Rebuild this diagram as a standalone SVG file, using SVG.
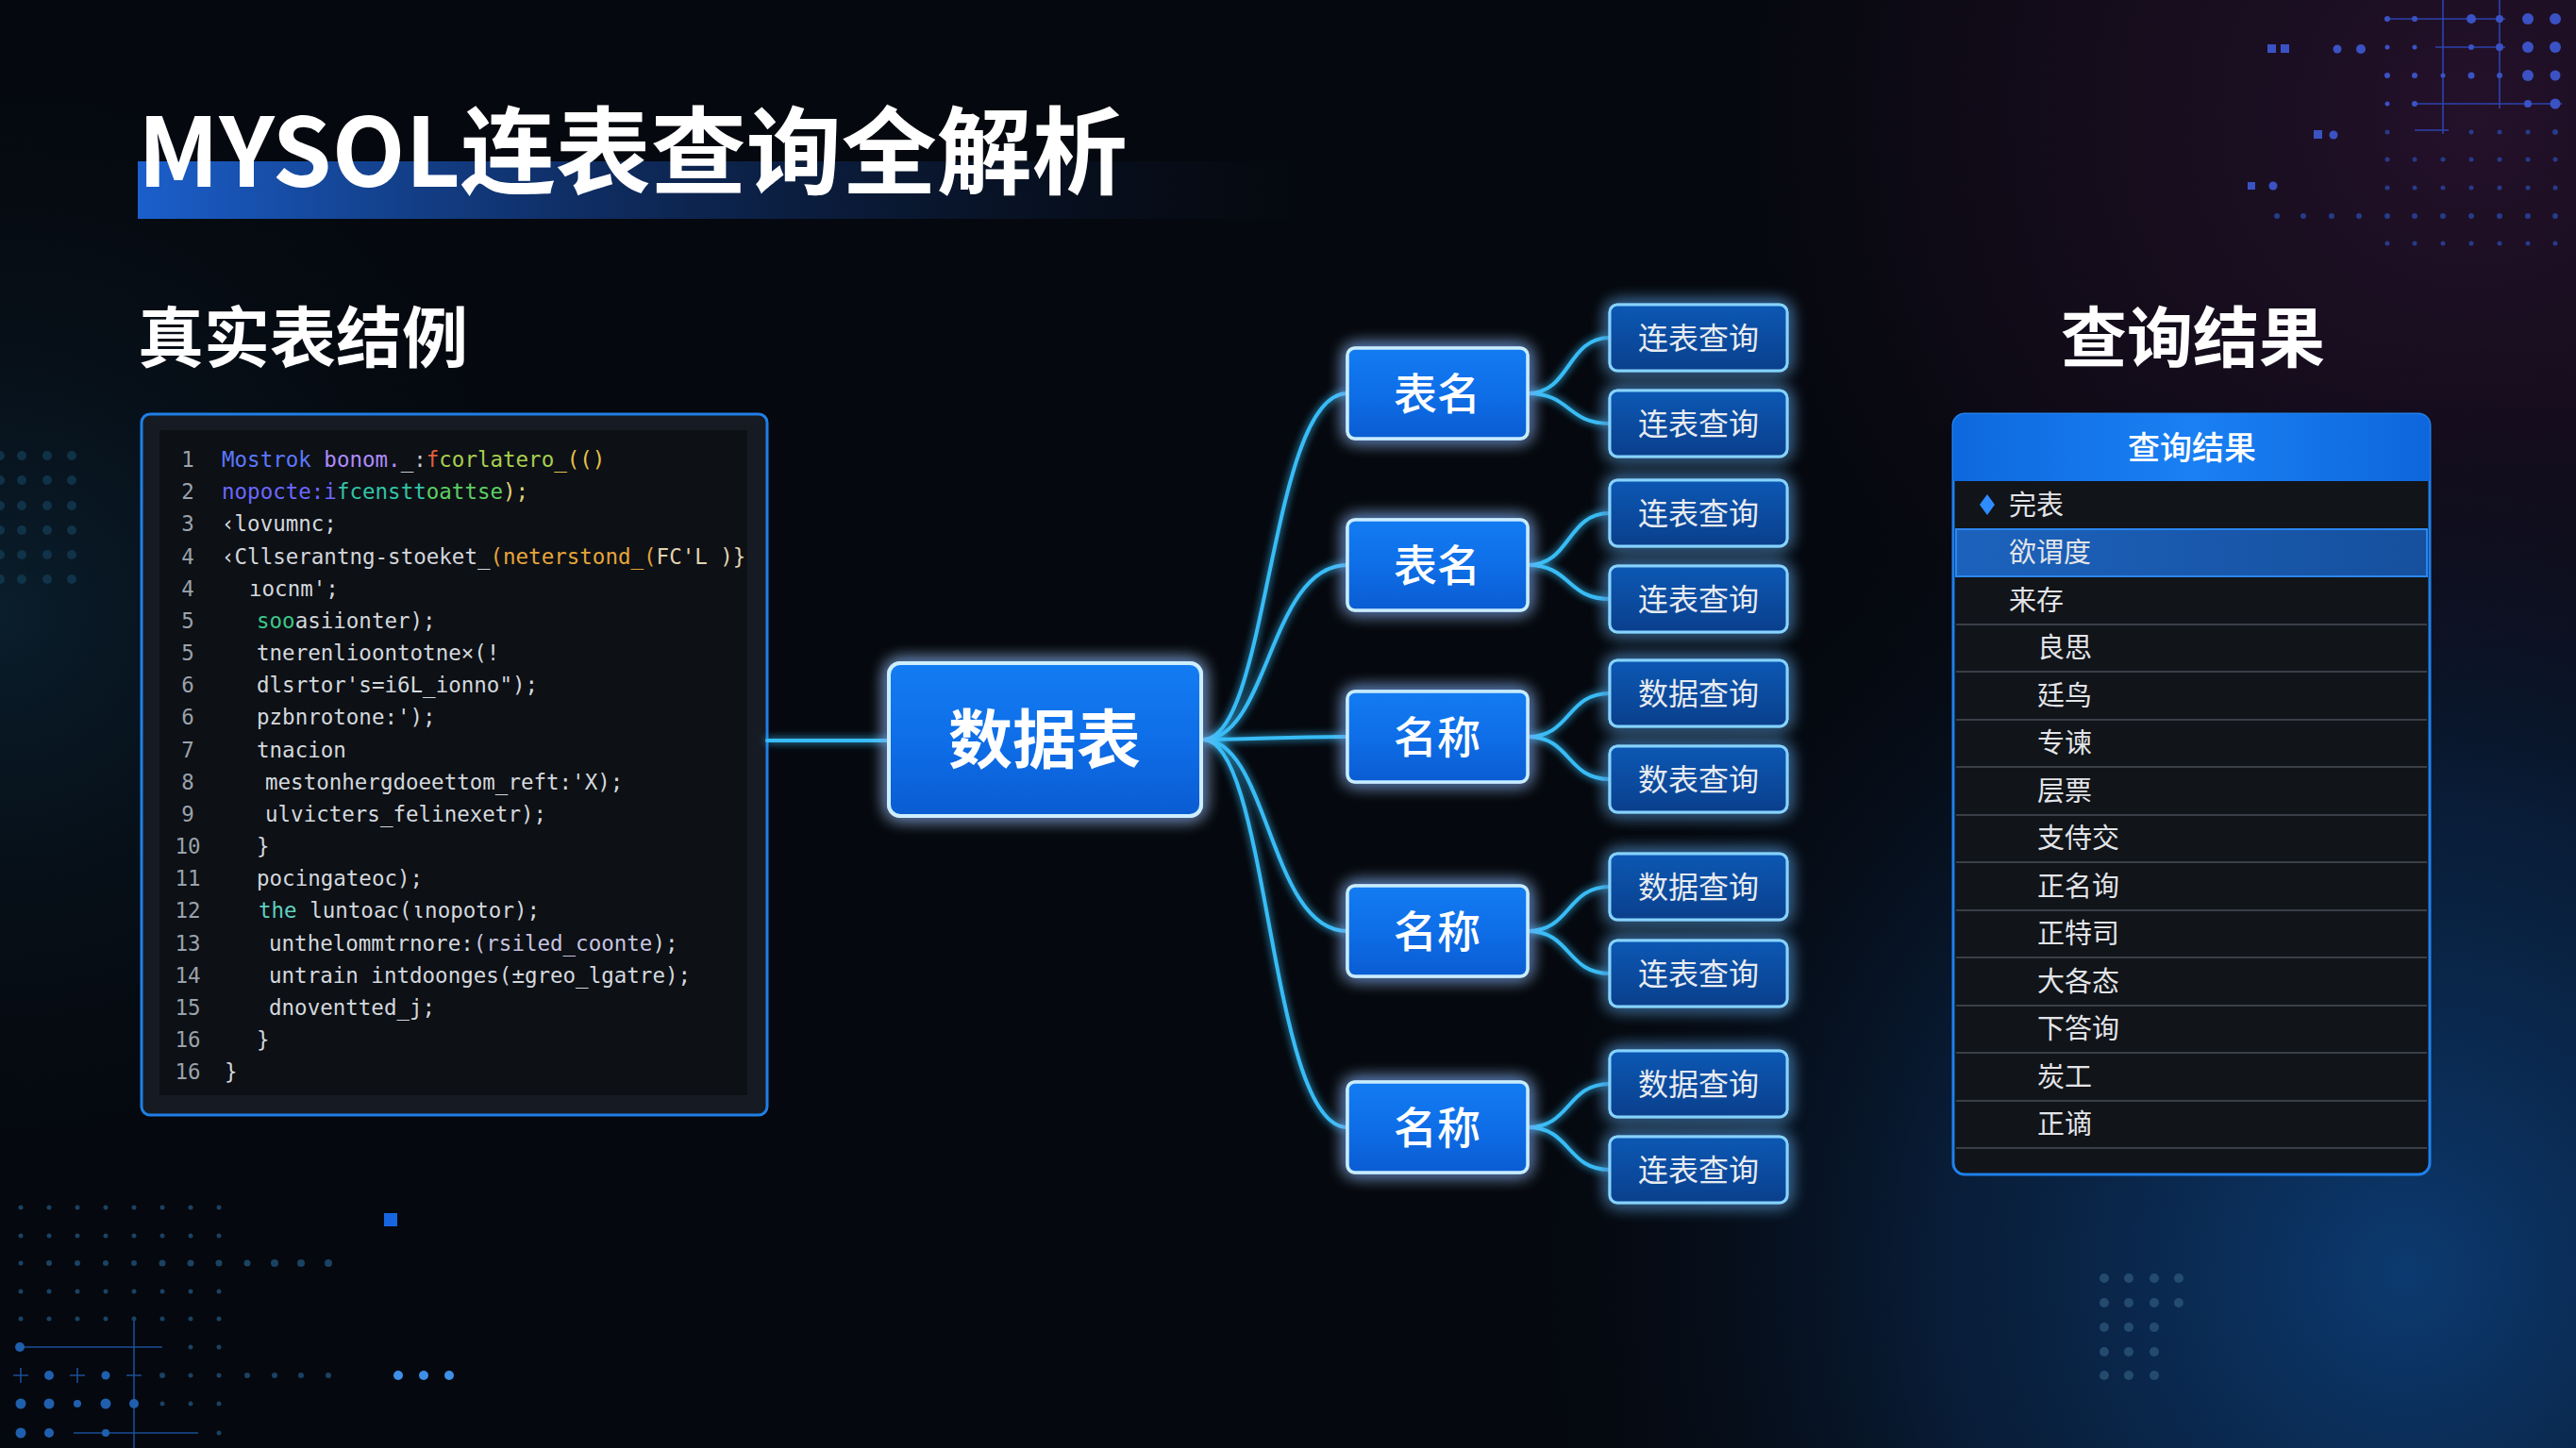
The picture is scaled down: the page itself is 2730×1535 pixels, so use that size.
<svg xmlns="http://www.w3.org/2000/svg" width="2730" height="1535" viewBox="0 0 2730 1535">
<defs>
<radialGradient id="bgTR" cx="2620" cy="120" r="900" gradientUnits="userSpaceOnUse"><stop offset="0" stop-color="#24112a"/><stop offset="0.6" stop-color="#150c1c" stop-opacity="0.7"/><stop offset="1" stop-color="#05080e" stop-opacity="0"/></radialGradient>
<radialGradient id="bgBR" cx="2550" cy="1350" r="1000" gradientUnits="userSpaceOnUse"><stop offset="0" stop-color="#0c3a70"/><stop offset="0.5" stop-color="#0a2548" stop-opacity="0.7"/><stop offset="1" stop-color="#05080e" stop-opacity="0"/></radialGradient>
<radialGradient id="bgL" cx="0" cy="650" r="700" gradientUnits="userSpaceOnUse"><stop offset="0" stop-color="#0a1e2c"/><stop offset="1" stop-color="#05080e" stop-opacity="0"/></radialGradient>
<linearGradient id="titleBar" x1="0" y1="0" x2="1" y2="0"><stop offset="0" stop-color="#1b5fcc"/><stop offset="0.35" stop-color="#123a80" stop-opacity="0.8"/><stop offset="1" stop-color="#0b1a35" stop-opacity="0"/></linearGradient>
<linearGradient id="mainFill" x1="0" y1="0" x2="0" y2="1"><stop offset="0" stop-color="#137cf2"/><stop offset="0.5" stop-color="#0e6ee8"/><stop offset="1" stop-color="#0a5cd2"/></linearGradient>
<linearGradient id="leafFill" x1="0" y1="0" x2="0" y2="1"><stop offset="0" stop-color="#0c58b4"/><stop offset="1" stop-color="#0a3f8c"/></linearGradient>
<linearGradient id="hdrFill" x1="0" y1="0" x2="1" y2="0"><stop offset="0" stop-color="#0e68de"/><stop offset="0.5" stop-color="#1a80f4"/><stop offset="1" stop-color="#0e66dc"/></linearGradient>
<linearGradient id="selFill" x1="0" y1="0" x2="1" y2="0"><stop offset="0" stop-color="#1c62bc"/><stop offset="1" stop-color="#16509e"/></linearGradient>
<filter id="glow" x="-40%" y="-40%" width="180%" height="180%"><feGaussianBlur in="SourceGraphic" stdDeviation="9" result="b"/><feMerge><feMergeNode in="b"/><feMergeNode in="b"/><feMergeNode in="SourceGraphic"/></feMerge></filter>
<filter id="lineGlow" x="-20%" y="-20%" width="140%" height="140%"><feGaussianBlur in="SourceGraphic" stdDeviation="4" result="b"/><feMerge><feMergeNode in="b"/><feMergeNode in="SourceGraphic"/></feMerge></filter>
<style>
.cjk{font-family:"Noto Sans CJK SC","Noto Sans",sans-serif;}
.code{font-family:"DejaVu Sans Mono","Liberation Mono",monospace;font-size:22.5px;fill:#d3d8de;}
.ln{font-family:"DejaVu Sans Mono","Liberation Mono",monospace;font-size:22.5px;fill:#9aa2ab;text-anchor:middle;}
.main rect{fill:url(#mainFill);stroke:#cdeeff;stroke-width:4;}
.lvl2 rect{fill:url(#mainFill);stroke:#c8ecff;stroke-width:3.5;}
.leaf rect{fill:url(#leafFill);stroke:#86d3ff;stroke-width:3;}
.halo{fill:none;stroke:#1aa8ff;stroke-width:10;opacity:0.75;}
.ntext{fill:#ffffff;text-anchor:middle;font-family:"Noto Sans CJK SC","Noto Sans",sans-serif;}
.ltext{fill:#e7ebf0;text-anchor:middle;font-family:"Noto Sans CJK SC","Noto Sans",sans-serif;font-size:32px;}
.conn{fill:none;stroke:#38bcf6;stroke-width:4;stroke-linecap:round;}
.row{fill:#e2e4e8;font-family:"Noto Sans CJK SC","Noto Sans",sans-serif;font-size:29px;}
.sep{stroke:#3a3f47;stroke-width:2;}
.dA{fill:#3a52c4;}
.dB{fill:#263b8a;}
.dC{fill:#1a4262;}
.dD{fill:#1f5fae;}
.dE{fill:#123a52;opacity:0.8;}
.dF{fill:#2b5478;opacity:0.8;}
.gl{stroke:#2f4fd0;stroke-width:1.6;opacity:0.8;fill:none;}
.gl2{stroke:#1f5fb8;stroke-width:1.6;opacity:0.8;fill:none;}
</style>
</defs>

<!-- background -->
<rect x="0" y="0" width="2730" height="1535" fill="#05080e"/>
<rect x="0" y="0" width="2730" height="1535" fill="url(#bgL)"/>
<rect x="0" y="0" width="2730" height="1535" fill="url(#bgTR)"/>
<rect x="0" y="0" width="2730" height="1535" fill="url(#bgBR)"/>

<!-- decorative dots -->
<g id="deco">
  <g id="dots-top-right">
    <path class="gl" d="M2527 20H2655M2589 0V142M2649 0V115M2581 50H2655M2559 110H2715M2559 138H2595"/>
    <g class="dA">
      <circle cx="2530" cy="20" r="3"/><circle cx="2559" cy="20" r="3"/><circle cx="2619" cy="20" r="5"/><circle cx="2649" cy="20" r="4"/><circle cx="2679" cy="20" r="6"/><circle cx="2708" cy="20" r="6"/>
      <circle cx="2530" cy="50" r="2.5"/><circle cx="2559" cy="50" r="2.5"/><circle cx="2619" cy="50" r="3"/><circle cx="2649" cy="50" r="4"/><circle cx="2679" cy="50" r="6"/><circle cx="2708" cy="50" r="6"/>
      <circle cx="2530" cy="80" r="3"/><circle cx="2559" cy="80" r="3"/><circle cx="2589" cy="80" r="2.5"/><circle cx="2619" cy="80" r="3.5"/><circle cx="2649" cy="80" r="3"/><circle cx="2679" cy="80" r="6"/><circle cx="2708" cy="80" r="5.5"/>
      <circle cx="2530" cy="110" r="2.5"/><circle cx="2559" cy="110" r="3"/><circle cx="2679" cy="110" r="4"/><circle cx="2708" cy="110" r="5.5"/>
      <rect x="2403" y="47" width="9" height="9"/><rect x="2417" y="47" width="9" height="9"/><circle cx="2477" cy="52" r="4.5"/><circle cx="2502" cy="52" r="5"/>
      <rect x="2452" y="138" width="9" height="9"/><circle cx="2473" cy="143" r="4.5"/>
      <rect x="2382" y="193" width="8" height="8"/><circle cx="2409" cy="197" r="4.5"/>
    </g>
    <g class="dB">
      <circle cx="2530" cy="140" r="2.5"/><circle cx="2619" cy="140" r="2.5"/><circle cx="2649" cy="140" r="2.5"/><circle cx="2679" cy="140" r="2.5"/><circle cx="2708" cy="140" r="3"/>
      <circle cx="2530" cy="169" r="2.5"/><circle cx="2559" cy="169" r="2.5"/><circle cx="2589" cy="169" r="2.5"/><circle cx="2619" cy="169" r="2.5"/><circle cx="2649" cy="169" r="2.5"/><circle cx="2679" cy="169" r="2.5"/><circle cx="2708" cy="169" r="2.5"/>
      <circle cx="2530" cy="199" r="2.5"/><circle cx="2559" cy="199" r="2.5"/><circle cx="2589" cy="199" r="2.5"/><circle cx="2619" cy="199" r="2.5"/><circle cx="2649" cy="199" r="2.5"/><circle cx="2679" cy="199" r="2.5"/><circle cx="2708" cy="199" r="2.5"/>
      <circle cx="2413" cy="229" r="3"/><circle cx="2441" cy="229" r="3"/><circle cx="2471" cy="229" r="3"/><circle cx="2500" cy="229" r="3"/>
      <circle cx="2530" cy="229" r="3"/><circle cx="2559" cy="229" r="3"/><circle cx="2589" cy="229" r="3"/><circle cx="2619" cy="229" r="3"/><circle cx="2649" cy="229" r="3"/><circle cx="2679" cy="229" r="3"/><circle cx="2708" cy="229" r="3"/>
      <circle cx="2530" cy="258" r="2.5"/><circle cx="2559" cy="258" r="2.5"/><circle cx="2589" cy="258" r="2.5"/><circle cx="2619" cy="258" r="2.5"/><circle cx="2649" cy="258" r="2.5"/><circle cx="2679" cy="258" r="2.5"/><circle cx="2708" cy="258" r="2.5"/>
    </g>
  </g>
  <g id="dots-bottom-left">
    <path class="gl2" d="M20 1428H172M78 1519H210M142 1398V1535M14 1458H30M22 1450V1466M74 1458H90M82 1450V1466M134 1458H150"/>
    <g class="dC">
      <circle cx="22" cy="1280" r="2.5"/><circle cx="52" cy="1280" r="2.5"/><circle cx="82" cy="1280" r="2.5"/><circle cx="112" cy="1280" r="2.5"/><circle cx="142" cy="1280" r="2.5"/><circle cx="172" cy="1280" r="2.5"/><circle cx="202" cy="1280" r="2.5"/><circle cx="232" cy="1280" r="2.5"/>
      <circle cx="22" cy="1310" r="2.5"/><circle cx="52" cy="1310" r="2.5"/><circle cx="82" cy="1310" r="2.5"/><circle cx="112" cy="1310" r="2.5"/><circle cx="142" cy="1310" r="2.5"/><circle cx="172" cy="1310" r="2.5"/><circle cx="202" cy="1310" r="2.5"/><circle cx="232" cy="1310" r="2.5"/>
      <circle cx="22" cy="1339" r="2.5"/><circle cx="52" cy="1339" r="3"/><circle cx="82" cy="1339" r="3"/><circle cx="112" cy="1339" r="3"/><circle cx="142" cy="1339" r="3"/><circle cx="172" cy="1339" r="3.5"/><circle cx="202" cy="1339" r="3.5"/><circle cx="232" cy="1339" r="3.5"/><circle cx="262" cy="1339" r="3.5"/><circle cx="291" cy="1339" r="4"/><circle cx="319" cy="1339" r="4"/><circle cx="348" cy="1339" r="4"/>
      <circle cx="22" cy="1369" r="2.5"/><circle cx="52" cy="1369" r="2.5"/><circle cx="82" cy="1369" r="2.5"/><circle cx="112" cy="1369" r="2.5"/><circle cx="142" cy="1369" r="2.5"/><circle cx="172" cy="1369" r="2.5"/><circle cx="202" cy="1369" r="2.5"/><circle cx="232" cy="1369" r="2.5"/>
      <circle cx="22" cy="1398" r="2.5"/><circle cx="52" cy="1398" r="2.5"/><circle cx="82" cy="1398" r="2.5"/><circle cx="112" cy="1398" r="2.5"/><circle cx="142" cy="1398" r="2.5"/><circle cx="172" cy="1398" r="2.5"/><circle cx="202" cy="1398" r="2.5"/><circle cx="232" cy="1398" r="2.5"/>
      <circle cx="202" cy="1428" r="2.5"/><circle cx="232" cy="1428" r="2.5"/>
      <circle cx="172" cy="1458" r="3"/><circle cx="202" cy="1458" r="2.5"/><circle cx="232" cy="1458" r="2.5"/><circle cx="262" cy="1458" r="3"/><circle cx="291" cy="1458" r="3"/><circle cx="319" cy="1458" r="3"/><circle cx="348" cy="1458" r="3"/>
      <circle cx="172" cy="1488" r="2.5"/><circle cx="202" cy="1488" r="2.5"/><circle cx="232" cy="1488" r="2.5"/>
      <circle cx="232" cy="1519" r="2.5"/>
    </g>
    <g class="dD">
      <circle cx="21" cy="1428" r="5"/>
      <circle cx="52" cy="1458" r="5"/><circle cx="112" cy="1458" r="4.5"/>
      <circle cx="22" cy="1488" r="5.5"/><circle cx="52" cy="1488" r="5.5"/><circle cx="82" cy="1488" r="4"/><circle cx="112" cy="1488" r="5.5"/><circle cx="142" cy="1488" r="5"/>
      <circle cx="22" cy="1519" r="5.5"/><circle cx="52" cy="1519" r="5"/><circle cx="112" cy="1519" r="4"/>
    </g>
    <g fill="#3d8fe8"><circle cx="422" cy="1458" r="5"/><circle cx="449" cy="1458" r="5"/><circle cx="476" cy="1458" r="5"/></g>
    <rect x="407" y="1286" width="14" height="14" fill="#1766e0"/>
  </g>
  <g id="dots-left" class="dE">
    <circle cx="0" cy="483" r="5"/><circle cx="23" cy="483" r="5"/><circle cx="50" cy="483" r="5"/><circle cx="76" cy="483" r="5"/>
    <circle cx="0" cy="509" r="5"/><circle cx="23" cy="509" r="5"/><circle cx="50" cy="509" r="5"/><circle cx="76" cy="509" r="5"/>
    <circle cx="0" cy="536" r="5"/><circle cx="23" cy="536" r="5"/><circle cx="50" cy="536" r="5"/><circle cx="76" cy="536" r="5"/>
    <circle cx="0" cy="562" r="5"/><circle cx="23" cy="562" r="5"/><circle cx="50" cy="562" r="5"/><circle cx="76" cy="562" r="5"/>
    <circle cx="0" cy="588" r="5"/><circle cx="23" cy="588" r="5"/><circle cx="50" cy="588" r="5"/><circle cx="76" cy="588" r="5"/>
    <circle cx="0" cy="614" r="5"/><circle cx="23" cy="614" r="5"/><circle cx="50" cy="614" r="5"/><circle cx="76" cy="614" r="5"/>
  </g>
  <g id="dots-bottom-right" class="dF">
    <circle cx="2230" cy="1355" r="5"/><circle cx="2256" cy="1355" r="5"/><circle cx="2283" cy="1355" r="5"/><circle cx="2309" cy="1355" r="5"/>
    <circle cx="2230" cy="1381" r="5"/><circle cx="2256" cy="1381" r="5"/><circle cx="2283" cy="1381" r="5"/><circle cx="2309" cy="1381" r="5"/>
    <circle cx="2230" cy="1407" r="5"/><circle cx="2256" cy="1407" r="5"/><circle cx="2283" cy="1407" r="5"/>
    <circle cx="2230" cy="1433" r="5"/><circle cx="2256" cy="1433" r="5"/><circle cx="2283" cy="1433" r="5"/>
    <circle cx="2230" cy="1458" r="5"/><circle cx="2256" cy="1458" r="5"/><circle cx="2283" cy="1458" r="5"/>
  </g>
</g>

<!-- titles -->
<g id="title">
  <rect x="146" y="171" width="1260" height="61" fill="url(#titleBar)"/>
  <text x="146" y="198" class="cjk" font-size="101" font-weight="bold" fill="#ffffff">MYSOL连表查询全解析</text>
</g>
<g id="subtitle-left"><text x="146" y="384" class="cjk" font-size="70" font-weight="bold" fill="#ffffff">真实表结例</text></g>
<g id="subtitle-right"><text x="2324" y="384" class="cjk" font-size="70" font-weight="bold" fill="#ffffff" text-anchor="middle">查询结果</text></g>

<!-- code panel -->
<g id="code-panel">
  <rect x="150" y="439" width="663" height="743" rx="9" fill="#161b23" stroke="#1f7fe6" stroke-width="3"/>
  <rect x="169" y="456" width="623" height="705" fill="#0d1015"/>
  <g>
    <text class="ln" x="199" y="495">1</text>
    <text class="ln" x="199" y="529">2</text>
    <text class="ln" x="199" y="563">3</text>
    <text class="ln" x="199" y="598">4</text>
    <text class="ln" x="199" y="632">4</text>
    <text class="ln" x="199" y="666">5</text>
    <text class="ln" x="199" y="700">5</text>
    <text class="ln" x="199" y="734">6</text>
    <text class="ln" x="199" y="768">6</text>
    <text class="ln" x="199" y="803">7</text>
    <text class="ln" x="199" y="837">8</text>
    <text class="ln" x="199" y="871">9</text>
    <text class="ln" x="199" y="905">10</text>
    <text class="ln" x="199" y="939">11</text>
    <text class="ln" x="199" y="973">12</text>
    <text class="ln" x="199" y="1008">13</text>
    <text class="ln" x="199" y="1042">14</text>
    <text class="ln" x="199" y="1076">15</text>
    <text class="ln" x="199" y="1110">16</text>
    <text class="ln" x="199" y="1144">16</text>
  </g>
  <g>
    <text class="code" x="235" y="495"><tspan fill="#5c78ff">Mostrok</tspan><tspan fill="#ae8cff">  bonom.</tspan><tspan fill="#c9c9c9">_:</tspan><tspan fill="#e0603f">f</tspan><tspan fill="#a8cf4f">corlatero</tspan><tspan fill="#e6c24a">_(()</tspan></text>
    <text class="code" x="235" y="529"><tspan fill="#6b68ff">nopocte:i</tspan><tspan fill="#33c3a5">fcenstt</tspan><tspan fill="#5ccf62">oattse</tspan><tspan fill="#e2d17c">);</tspan></text>
    <text class="code" x="235" y="563" fill="#cfd3d8">‹lovumnc;</text>
    <text class="code" x="235" y="598"><tspan fill="#d3d6db">‹Cllserantng-stoeket_</tspan><tspan fill="#e6a53a">(neterstond_(</tspan><tspan fill="#e2d3b0">FC'L )}</tspan></text>
    <text class="code" x="264" y="632">ıocnm';</text>
    <text class="code" x="272" y="666"><tspan fill="#3cc88a">soo</tspan>asiionter);</text>
    <text class="code" x="272" y="700">tnerenlioontotne×(!</text>
    <text class="code" x="272" y="734">dlsrtor's=i6L_ionno");</text>
    <text class="code" x="272" y="768">pzbnrotone:');</text>
    <text class="code" x="272" y="803">tnacion</text>
    <text class="code" x="281" y="837">mestonhergdoeettom_reft:'X);</text>
    <text class="code" x="281" y="871">ulvicters_felinexetr);</text>
    <text class="code" x="272" y="905">}</text>
    <text class="code" x="272" y="939">pocingateoc);</text>
    <text class="code" x="274" y="973"><tspan fill="#5fd0c0">the</tspan> luntoac(ιnopotor);</text>
    <text class="code" x="285" y="1008">unthelommtrnore:<tspan fill="#c8c4e0">(rsiled_coonte</tspan>);</text>
    <text class="code" x="285" y="1042">untrain intdoonges(±greo_lgatre);</text>
    <text class="code" x="285" y="1076">dnoventted_j;</text>
    <text class="code" x="272" y="1110">}</text>
    <text class="code" x="238" y="1144" fill="#3b82f6">}</text>
  </g>
</g>

<!-- connectors -->
<g id="connectors" filter="url(#lineGlow)">
  <path class="conn" d="M813 785H942"/>
  <path class="conn" d="M1275 784C1345 784 1345 417 1428 417"/>
  <path class="conn" d="M1275 784C1345 784 1345 599 1428 599"/>
  <path class="conn" d="M1275 784C1345 784 1345 781 1428 781"/>
  <path class="conn" d="M1275 784C1345 784 1345 987 1428 987"/>
  <path class="conn" d="M1275 784C1345 784 1345 1195 1428 1195"/>
  <path class="conn" d="M1619 417C1665 417 1660 358 1706 358"/>
  <path class="conn" d="M1619 417C1665 417 1660 449 1706 449"/>
  <path class="conn" d="M1619 599C1665 599 1660 544 1706 544"/>
  <path class="conn" d="M1619 599C1665 599 1660 635 1706 635"/>
  <path class="conn" d="M1619 781C1665 781 1660 735 1706 735"/>
  <path class="conn" d="M1619 781C1665 781 1660 826 1706 826"/>
  <path class="conn" d="M1619 987C1665 987 1660 940 1706 940"/>
  <path class="conn" d="M1619 987C1665 987 1660 1032 1706 1032"/>
  <path class="conn" d="M1619 1195C1665 1195 1660 1149 1706 1149"/>
  <path class="conn" d="M1619 1195C1665 1195 1660 1240 1706 1240"/>
</g>

<!-- center node -->
<g id="node-main" class="main">
  <rect class="halo" x="942" y="703" width="331" height="162" rx="12" filter="url(#glow)"/>
  <rect x="942" y="703" width="331" height="162" rx="12"/>
  <text class="ntext" x="1107" y="809" font-size="68" font-weight="bold">数据表</text>
</g>

<!-- level 2 nodes -->
<g id="node-t1" class="lvl2"><rect class="halo" x="1428" y="369" width="191" height="96" rx="8" filter="url(#glow)"/><rect x="1428" y="369" width="191" height="96" rx="8"/><text class="ntext" x="1523" y="434" font-size="46" font-weight="500">表名</text></g>
<g id="node-t2" class="lvl2"><rect class="halo" x="1428" y="551" width="191" height="96" rx="8" filter="url(#glow)"/><rect x="1428" y="551" width="191" height="96" rx="8"/><text class="ntext" x="1523" y="616" font-size="46" font-weight="500">表名</text></g>
<g id="node-n1" class="lvl2"><rect class="halo" x="1428" y="733" width="191" height="96" rx="8" filter="url(#glow)"/><rect x="1428" y="733" width="191" height="96" rx="8"/><text class="ntext" x="1523" y="798" font-size="46" font-weight="500">名称</text></g>
<g id="node-n2" class="lvl2"><rect class="halo" x="1428" y="939" width="191" height="96" rx="8" filter="url(#glow)"/><rect x="1428" y="939" width="191" height="96" rx="8"/><text class="ntext" x="1523" y="1004" font-size="46" font-weight="500">名称</text></g>
<g id="node-n3" class="lvl2"><rect class="halo" x="1428" y="1147" width="191" height="96" rx="8" filter="url(#glow)"/><rect x="1428" y="1147" width="191" height="96" rx="8"/><text class="ntext" x="1523" y="1212" font-size="46" font-weight="500">名称</text></g>

<!-- leaf nodes -->
<g id="leaf-1" class="leaf"><rect class="halo" x="1706" y="323" width="188" height="70" rx="8" filter="url(#glow)"/><rect x="1706" y="323" width="188" height="70" rx="8"/><text class="ltext" x="1800" y="370">连表查询</text></g>
<g id="leaf-2" class="leaf"><rect class="halo" x="1706" y="414" width="188" height="70" rx="8" filter="url(#glow)"/><rect x="1706" y="414" width="188" height="70" rx="8"/><text class="ltext" x="1800" y="461">连表查询</text></g>
<g id="leaf-3" class="leaf"><rect class="halo" x="1706" y="509" width="188" height="70" rx="8" filter="url(#glow)"/><rect x="1706" y="509" width="188" height="70" rx="8"/><text class="ltext" x="1800" y="556">连表查询</text></g>
<g id="leaf-4" class="leaf"><rect class="halo" x="1706" y="600" width="188" height="70" rx="8" filter="url(#glow)"/><rect x="1706" y="600" width="188" height="70" rx="8"/><text class="ltext" x="1800" y="647">连表查询</text></g>
<g id="leaf-5" class="leaf"><rect class="halo" x="1706" y="700" width="188" height="70" rx="8" filter="url(#glow)"/><rect x="1706" y="700" width="188" height="70" rx="8"/><text class="ltext" x="1800" y="747">数据查询</text></g>
<g id="leaf-6" class="leaf"><rect class="halo" x="1706" y="791" width="188" height="70" rx="8" filter="url(#glow)"/><rect x="1706" y="791" width="188" height="70" rx="8"/><text class="ltext" x="1800" y="838">数表查询</text></g>
<g id="leaf-7" class="leaf"><rect class="halo" x="1706" y="905" width="188" height="70" rx="8" filter="url(#glow)"/><rect x="1706" y="905" width="188" height="70" rx="8"/><text class="ltext" x="1800" y="952">数据查询</text></g>
<g id="leaf-8" class="leaf"><rect class="halo" x="1706" y="997" width="188" height="70" rx="8" filter="url(#glow)"/><rect x="1706" y="997" width="188" height="70" rx="8"/><text class="ltext" x="1800" y="1044">连表查询</text></g>
<g id="leaf-9" class="leaf"><rect class="halo" x="1706" y="1114" width="188" height="70" rx="8" filter="url(#glow)"/><rect x="1706" y="1114" width="188" height="70" rx="8"/><text class="ltext" x="1800" y="1161">数据查询</text></g>
<g id="leaf-10" class="leaf"><rect class="halo" x="1706" y="1205" width="188" height="70" rx="8" filter="url(#glow)"/><rect x="1706" y="1205" width="188" height="70" rx="8"/><text class="ltext" x="1800" y="1252">连表查询</text></g>

<!-- result panel -->
<g id="result-panel">
  <rect x="2070" y="439" width="505" height="806" rx="12" fill="#111419" stroke="#1f80ea" stroke-width="3"/>
  <path d="M2082 439H2563A12 12 0 0 1 2575 451V510H2070V451A12 12 0 0 1 2082 439Z" fill="url(#hdrFill)"/>
  <text x="2323" y="487" class="cjk" font-size="34" font-weight="500" fill="#ffffff" text-anchor="middle">查询结果</text>
  <rect x="2073" y="561" width="499" height="50" fill="url(#selFill)" stroke="#2a86f0" stroke-width="2"/>
  <g>
    <line class="sep" x1="2073" y1="662" x2="2572" y2="662"/>
    <line class="sep" x1="2073" y1="712" x2="2572" y2="712"/>
    <line class="sep" x1="2073" y1="763" x2="2572" y2="763"/>
    <line class="sep" x1="2073" y1="813" x2="2572" y2="813"/>
    <line class="sep" x1="2073" y1="864" x2="2572" y2="864"/>
    <line class="sep" x1="2073" y1="914" x2="2572" y2="914"/>
    <line class="sep" x1="2073" y1="965" x2="2572" y2="965"/>
    <line class="sep" x1="2073" y1="1015" x2="2572" y2="1015"/>
    <line class="sep" x1="2073" y1="1066" x2="2572" y2="1066"/>
    <line class="sep" x1="2073" y1="1116" x2="2572" y2="1116"/>
    <line class="sep" x1="2073" y1="1167" x2="2572" y2="1167"/>
    <line class="sep" x1="2073" y1="1217" x2="2572" y2="1217"/>
  </g>
  <polygon points="2106,524 2114,535 2106,546 2098,535" fill="#2f8cff"/>
  <text class="row" x="2129" y="546">完表</text>
  <text class="row" x="2129" y="596" fill="#ffffff">欲谓度</text>
  <text class="row" x="2129" y="647">来存</text>
  <text class="row" x="2159" y="697">良思</text>
  <text class="row" x="2159" y="748">廷鸟</text>
  <text class="row" x="2159" y="798">专谏</text>
  <text class="row" x="2159" y="849">层票</text>
  <text class="row" x="2159" y="899">支侍交</text>
  <text class="row" x="2159" y="950">正名询</text>
  <text class="row" x="2159" y="1000">正特司</text>
  <text class="row" x="2159" y="1051">大各态</text>
  <text class="row" x="2159" y="1101">下答询</text>
  <text class="row" x="2159" y="1152">炭工</text>
  <text class="row" x="2159" y="1202">正谪</text>
</g>
</svg>
